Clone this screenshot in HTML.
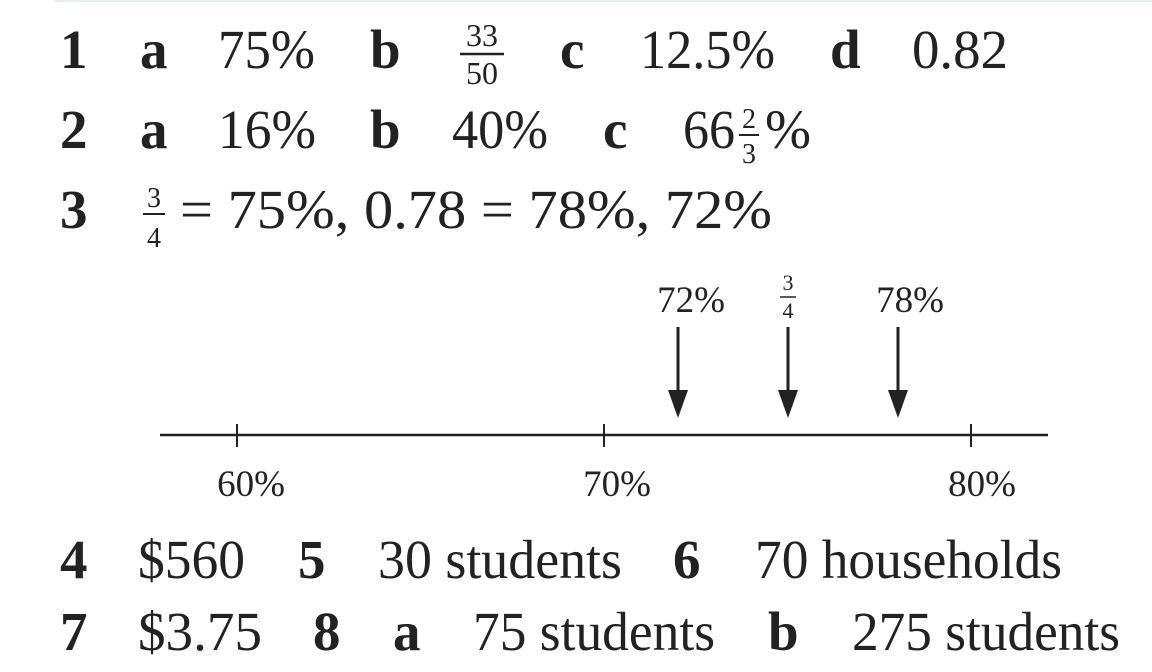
<!DOCTYPE html>
<html><head><meta charset="utf-8"><style>
html,body{margin:0;padding:0;background:#fff;}
svg{display:block;}
text{font-family:"Liberation Serif",serif;fill:#222;}
.b{font-weight:bold;}
</style></head><body>
<svg width="1152" height="672" viewBox="0 0 1152 672">
<line x1="55" y1="1" x2="1152" y2="1" stroke="#e3eef7" stroke-width="2"/>
<g font-size="55">
<text class="b" x="60" y="68">1</text>
<text class="b" x="140" y="68">a</text>
<text x="218" y="68" textLength="97" lengthAdjust="spacingAndGlyphs">75%</text>
<text class="b" x="370" y="68">b</text>
<text class="b" x="560" y="68">c</text>
<text x="640" y="68" textLength="135" lengthAdjust="spacingAndGlyphs">12.5%</text>
<text class="b" x="830" y="68">d</text>
<text x="912" y="68" textLength="96" lengthAdjust="spacingAndGlyphs">0.82</text>
<text class="b" x="60" y="148">2</text>
<text class="b" x="140" y="148">a</text>
<text x="218" y="148" textLength="98" lengthAdjust="spacingAndGlyphs">16%</text>
<text class="b" x="370" y="148">b</text>
<text x="452" y="148" textLength="96" lengthAdjust="spacingAndGlyphs">40%</text>
<text class="b" x="603" y="148">c</text>
<text x="683" y="148" textLength="52" lengthAdjust="spacingAndGlyphs">66</text>
<text x="765" y="148" textLength="46" lengthAdjust="spacingAndGlyphs">%</text>
<text class="b" x="60" y="228">3</text>
<text x="180" y="228" textLength="592" lengthAdjust="spacingAndGlyphs">= 75%, 0.78 = 78%, 72%</text>
<text class="b" x="60" y="578">4</text>
<text x="138" y="578" textLength="107" lengthAdjust="spacingAndGlyphs">$560</text>
<text class="b" x="298" y="578">5</text>
<text x="378" y="578" textLength="244" lengthAdjust="spacingAndGlyphs">30 students</text>
<text class="b" x="673" y="578">6</text>
<text x="755" y="578" textLength="307" lengthAdjust="spacingAndGlyphs">70 households</text>
<text class="b" x="60" y="650">7</text>
<text x="138" y="650" textLength="124" lengthAdjust="spacingAndGlyphs">$3.75</text>
<text class="b" x="313" y="650">8</text>
<text class="b" x="393" y="650">a</text>
<text x="473" y="650" textLength="242" lengthAdjust="spacingAndGlyphs">75 students</text>
<text class="b" x="768" y="650">b</text>
<text x="852" y="650" textLength="268" lengthAdjust="spacingAndGlyphs">275 students</text>
</g>
<g font-size="32" text-anchor="middle">
<text x="482" y="46">33</text><line x1="460" y1="54" x2="504" y2="54" stroke="#222" stroke-width="2.5"/><text x="482" y="84">50</text>
<text x="749" y="128" font-size="28">2</text><line x1="739" y1="135" x2="759" y2="135" stroke="#222" stroke-width="2"/><text x="749" y="163" font-size="28">3</text>
<text x="154" y="207" font-size="28">3</text><line x1="143" y1="214" x2="165" y2="214" stroke="#222" stroke-width="2"/><text x="154" y="247" font-size="28">4</text>
</g>
<line x1="160" y1="435" x2="1048" y2="435" stroke="#222" stroke-width="2.5"/>
<g stroke="#222" stroke-width="2">
<line x1="237" y1="424" x2="237" y2="447"/>
<line x1="604" y1="424" x2="604" y2="447"/>
<line x1="971" y1="424" x2="971" y2="447"/>
<line x1="678" y1="327" x2="678" y2="395" stroke-width="3"/>
<line x1="788" y1="327" x2="788" y2="395" stroke-width="3"/>
<line x1="898" y1="327" x2="898" y2="395" stroke-width="3"/>
</g>
<g fill="#222">
<polygon points="668,390 688,390 678,418"/>
<polygon points="778,390 798,390 788,418"/>
<polygon points="888,390 908,390 898,418"/>
</g>
<g font-size="37" text-anchor="middle">
<text x="251" y="496">60%</text>
<text x="617" y="496">70%</text>
<text x="982" y="496">80%</text>
<text x="691" y="312">72%</text>
<text x="910" y="312">78%</text>
<text x="788" y="290" font-size="22">3</text>
<text x="788" y="318" font-size="22">4</text>
</g>
<line x1="780" y1="297" x2="796" y2="297" stroke="#222" stroke-width="1.5"/>
</svg>
</body></html>
